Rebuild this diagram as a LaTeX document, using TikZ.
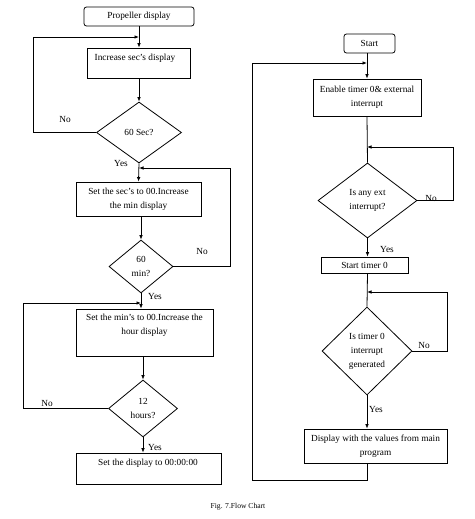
\documentclass[tikz,border=0pt]{standalone}
\usepackage{fontspec}
\setmainfont{Liberation Serif}
\usetikzlibrary{shapes.geometric,arrows.meta}
\begin{document}
\begin{tikzpicture}[x=1pt,y=-1pt,
  every node/.style={font=\fontsize{9.3}{14}\selectfont, inner sep=0pt, align=center},
  box/.style={draw, rectangle, line width=0.8pt},
  rbox/.style={box, rounded corners=2.5pt},
  dec/.style={draw, diamond, line width=0.8pt},
  ln/.style={line width=0.8pt},
  arr/.style={ln, -{Latex[length=4.5pt,width=3.6pt]}},
  lbl/.style={font=\fontsize{9.3}{11}\selectfont}]
\useasboundingbox[fill=white] (0,0) rectangle (474,519);

% ---------- left flow ----------
\node[rbox, minimum width=110pt, minimum height=19pt] (prop) at (139,16.5) {Propeller display};
\node[box, minimum width=103pt, minimum height=30pt] (inc) at (139,63) {};
\node (inct) at (135,58) {Increase sec’s display};
\node[dec, minimum width=85pt, minimum height=61pt] (d60s) at (139,132.5) {60 Sec?};
\node[box, minimum width=125pt, minimum height=34pt] (setsec) at (138.5,199) {Set the sec’s to 00.Increase\\the min display};
\node[dec, minimum width=64pt, minimum height=53pt] (d60m) at (141,266.5) {60\\min?};
\node[box, minimum width=137pt, minimum height=47pt] (setmin) at (144.5,332.5) {};
\node (setmint) at (144.5,325.5) {Set the min’s to 00.Increase the\\hour display};
\node[dec, minimum width=69pt, minimum height=57pt] (d12) at (143,408.5) {12\\hours?};
\node[box, minimum width=145pt, minimum height=31pt] (setdisp) at (148.5,468.5) {};
\node (setdispt) at (148,463) {Set the display to 00:00:00};

\draw[arr] (prop.south) -- (inc.north);
\draw[arr] (inc.south) -- (d60s.north);
\draw[arr] (d60s.south) -- (setsec.north);
\draw[arr] (d60m.north |- setsec.south) -- (d60m.north);
\draw[arr] (d60m.south) -- (d60m.south |- setmin.north);
\draw[arr] (d12.north |- setmin.south) -- (d12.north);
\draw[arr] (d12.south) -- (d12.south |- setdisp.north);

\coordinate (j1) at (139,37);
\coordinate (c1) at (33,37);
\draw[arr] (d60s.west) -| (c1) -- (j1);
\coordinate (j2) at (139,168);
\coordinate (c2) at (230,168);
\draw[arr] (d60m.east) -| (c2) -- (j2);
\coordinate (j3) at (141,303);
\coordinate (c3) at (23,303);
\draw[arr] (d12.west) -| (c3) -- (j3);

\node[lbl] (no1) at (65,119) {No};
\node[lbl] (yes1) at (121,163) {Yes};
\node[lbl] (no2) at (202,251) {No};
\node[lbl] (yes2) at (155,296) {Yes};
\node[lbl] (no3) at (47,403) {No};
\node[lbl] (yes3) at (155,447) {Yes};

% ---------- right flow ----------
\node[rbox, minimum width=51pt, minimum height=19pt] (start) at (369.5,43.5) {Start};
\node[box, minimum width=108pt, minimum height=37pt] (enable) at (367,97.5) {Enable timer 0\& external\\interrupt};
\node[dec, minimum width=99pt, minimum height=75pt] (dext) at (367.5,200.5) {Is any ext\\interrupt?};
\node[box, minimum width=87pt, minimum height=16pt] (st0) at (364.5,265) {Start timer 0};
\node[dec, minimum width=90pt, minimum height=88pt] (dtim) at (367,351) {Is timer 0\\interrupt\\generated};
\node[box, minimum width=143pt, minimum height=34pt] (disp) at (375.5,446) {Display with the values from main\\program};

\coordinate (j4) at (367,63);
\draw[arr] (enable.north |- start.south) -- (enable.north);
\draw[ln] (enable.south) -- (dext.north);
\draw[arr] (dext.south) -- (dext.south |- st0.north);
\draw[ln] (dext.south |- st0.south) -- (dtim.north);
\draw[arr] (dtim.south) -- (dtim.south |- disp.north);

\coordinate (b1) at (367,480);
\coordinate (c4) at (252,63);
\draw[arr] (b1 |- disp.south) -- (b1) -| (c4) -- (j4);
\coordinate (j5) at (367,147);
\coordinate (c5) at (453,147);
\draw[arr] (dext.east) -| (c5) -- (j5);
\coordinate (j6) at (367,292);
\coordinate (c6) at (447,292);
\draw[arr] (dtim.east) -| (c6) -- (j6);

\node[lbl] (no4) at (431,198) {No};
\node[lbl] (yes4) at (387,249) {Yes};
\node[lbl] (no5) at (424,345) {No};
\node[lbl] (yes5) at (376,409) {Yes};

\node[font=\fontsize{7.6}{8}\selectfont] (cap) at (238,507) {Fig. 7.Flow Chart};
\end{tikzpicture}
\end{document}
